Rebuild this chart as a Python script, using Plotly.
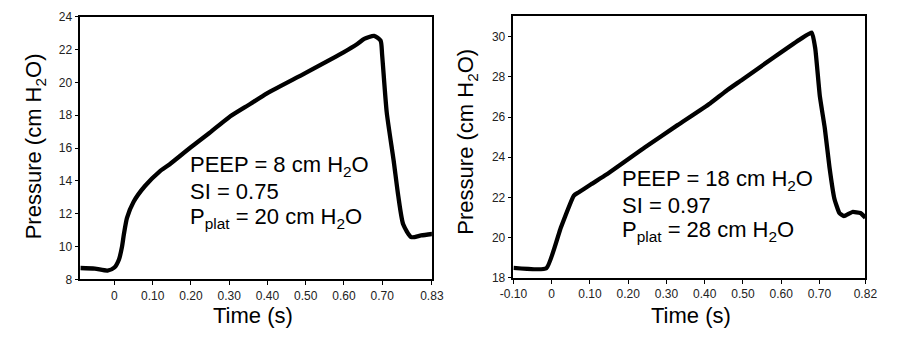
import plotly.graph_objects as go

# Airway pressure traces for two PEEP settings
time_a = [-0.089, -0.051, -0.018, 0.000, 0.012, 0.020, 0.025, 0.033, 0.050, 0.080,
          0.118, 0.144, 0.199, 0.245, 0.300, 0.355, 0.399, 0.499, 0.599,
          0.635, 0.653, 0.679, 0.696, 0.700, 0.712, 0.730, 0.742, 0.755,
          0.776, 0.802, 0.831]
pressure_a = [8.70, 8.66, 8.54, 8.73, 9.22, 10.00, 10.77, 11.75, 12.72, 13.69,
              14.57, 15.00, 16.03, 16.85, 17.88, 18.68, 19.33, 20.56, 21.82,
              22.33, 22.64, 22.83, 22.54, 21.67, 18.17, 15.25, 13.11, 11.36,
              10.58, 10.68, 10.77]

time_b = [-0.100, -0.014, 0.024, 0.058, 0.071, 0.103, 0.143, 0.244,
          0.329, 0.414, 0.456, 0.498, 0.583, 0.651, 0.680, 0.689, 0.701, 0.714,
          0.726, 0.739, 0.752, 0.764, 0.786, 0.807, 0.820]
pressure_b = [18.50, 18.48, 20.51, 22.10, 22.26, 22.66, 23.14, 24.50,
              25.60, 26.68, 27.30, 27.86, 29.00, 29.89, 30.20, 29.41, 27.03, 25.44,
              23.53, 21.94, 21.23, 21.07, 21.28, 21.23, 20.99]

xticks_a = [0, 0.10, 0.20, 0.30, 0.40, 0.50, 0.60, 0.70, 0.83]
xticklabels_a = ["0", "0.10", "0.20", "0.30", "0.40", "0.50", "0.60", "0.70", "0.83"]
xticks_b = [-0.10, 0, 0.10, 0.20, 0.30, 0.40, 0.50, 0.60, 0.70, 0.82]
xticklabels_b = ["-0.10", "0", "0.10", "0.20", "0.30", "0.40", "0.50", "0.60", "0.70", "0.82"]
yticks_a = [8, 10, 12, 14, 16, 18, 20, 22, 24]
yticks_b = [18, 20, 22, 24, 26, 28, 30]

labels_a = ["PEEP = 8 cm H<sub>2</sub>O", "SI = 0.75", "P<sub>plat</sub> = 20 cm H<sub>2</sub>O"]
labels_b = ["PEEP = 18 cm H<sub>2</sub>O", "SI = 0.97", "P<sub>plat</sub> = 28 cm H<sub>2</sub>O"]

W, H = 900, 337
FONT = "Liberation Sans, Arial, sans-serif"

fig = go.Figure()
fig.add_trace(go.Scatter(x=time_a, y=pressure_a, mode="lines",
                         line=dict(color="black", width=4.3, shape="spline", smoothing=0.6),
                         xaxis="x", yaxis="y", showlegend=False))
fig.add_trace(go.Scatter(x=time_b, y=pressure_b, mode="lines",
                         line=dict(color="black", width=4.3, shape="spline", smoothing=0.4),
                         xaxis="x2", yaxis="y2", showlegend=False))

axis_common = dict(showgrid=False, zeroline=False, showline=True, linecolor="black",
                   linewidth=1.5, mirror=True, ticks="outside", ticklen=4, tickwidth=1.2,
                   tickcolor="black", tickfont=dict(family=FONT, size=12, color="#222"))

fig.update_layout(
    width=W, height=H,
    margin=dict(l=0, r=0, t=0, b=0),
    paper_bgcolor="white", plot_bgcolor="white",
    xaxis=dict(domain=[68.3 / W, 430.3 / W], range=[-0.089, 0.83],
               tickvals=xticks_a, ticktext=xticklabels_a, anchor="y", **axis_common),
    yaxis=dict(domain=[1 - 284.3 / H, 1 - 10 / H], range=[8, 24],
               tickvals=yticks_a, anchor="x", **axis_common),
    xaxis2=dict(domain=[514.3 / W, 876.7 / W], range=[-0.10, 0.82],
                tickvals=xticks_b, ticktext=xticklabels_b, anchor="y2", **axis_common),
    yaxis2=dict(domain=[1 - 282.7 / H, 1 - 9.3 / H], range=[18, 31.03],
                tickvals=yticks_b, anchor="x2", **axis_common),
)

def px(x, y):
    return x / W, 1 - y / H

annotations = []
# Axis titles
for cx, cy in [(246, 322), (697, 322)]:
    x, y = px(cx, cy)
    annotations.append(dict(text="Time (s)", x=x, y=y, xref="paper", yref="paper",
                            showarrow=False, xanchor="center", yanchor="middle",
                            font=dict(family=FONT, size=22, color="black")))
for cx, cy in [(22, 145), (467, 141)]:
    x, y = px(cx, cy)
    annotations.append(dict(text="Pressure (cm H<sub>2</sub>O)", x=x, y=y,
                            xref="paper", yref="paper", textangle=-90,
                            showarrow=False, xanchor="center", yanchor="middle",
                            font=dict(family=FONT, size=22, color="black")))
# Parameter labels
for lines, left, tops in [(labels_a, 179, [166, 193, 220]), (labels_b, 624, [180, 207, 234])]:
    for txt, cy in zip(lines, tops):
        x, y = px(left, cy)
        annotations.append(dict(text=txt, x=x, y=y, xref="paper", yref="paper",
                                showarrow=False, xanchor="left", yanchor="middle",
                                font=dict(family=FONT, size=22, color="black")))

fig.update_layout(annotations=annotations)
fig.write_html("out.html")
